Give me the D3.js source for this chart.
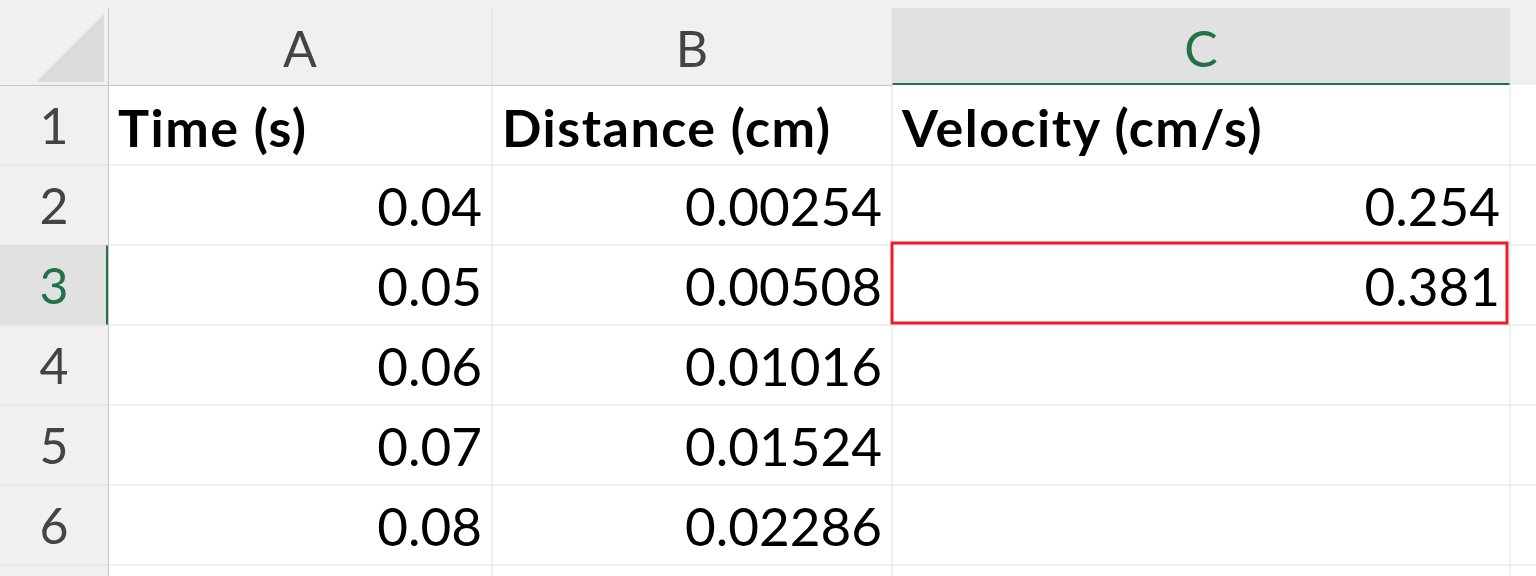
<!DOCTYPE html>
<html>
<head>
<meta charset="utf-8">
<script src="https://cdn.jsdelivr.net/npm/d3@7"></script>
<style>
  body { margin: 0; background: #fff; }
  text { font-family: Lato, "Open Sans", sans-serif; }
</style>
</head>
<body>
<div id="sheet"></div>
<script>
// spreadsheet contents
const columns = ["A", "B", "C"]
const headers = ["Time (s)", "Distance (cm)", "Velocity (cm/s)"]
const time = ["0.04", "0.05", "0.06", "0.07", "0.08"]
const distance = ["0.00254", "0.00508", "0.01016", "0.01524", "0.02286"]
const velocity = ["0.254", "0.381", "", "", ""]
const rowLabels = ["1", "2", "3", "4", "5", "6"]

const width = 1536
const height = 576

const svg = d3.select("#sheet").append("svg")
  .attr("width", width)
  .attr("height", height)

// column edges and row edges
const colEdges = [108, 492, 892, 1510]
const headTop = 8, headBottom = 85, rowH = 80

const x = d3.scaleOrdinal().domain(columns).range(colEdges.slice(0, 3))
const colW = c => colEdges[columns.indexOf(c) + 1] - x(c)
const y = d3.scaleBand().domain(rowLabels).range([headBottom, headBottom + rowH * 6])

// grey header backgrounds
svg.append("rect").attr("x", 0).attr("y", 0).attr("width", width).attr("height", headBottom).attr("fill", "#f0f0f0")
svg.append("rect").attr("x", 0).attr("y", 0).attr("width", 108).attr("height", height).attr("fill", "#f0f0f0")
svg.append("path").attr("d", "M36,82 L104,82 L104,14 Z").attr("fill", "#dcdcdc")

// selected column / row highlight
svg.append("rect").attr("x", x("C")).attr("y", headTop).attr("width", colW("C")).attr("height", headBottom - headTop).attr("fill", "#e1e1e1")
svg.append("line").attr("x1", x("C")).attr("x2", colEdges[3]).attr("y1", headBottom - 1).attr("y2", headBottom - 1).attr("stroke", "#217346").attr("stroke-width", 2)
svg.append("rect").attr("x", 0).attr("y", y("3")).attr("width", 108).attr("height", rowH).attr("fill", "#e1e1e1")
svg.append("line").attr("x1", 107).attr("x2", 107).attr("y1", y("3")).attr("y2", y("3") + rowH).attr("stroke", "#217346").attr("stroke-width", 2)

// grid lines
svg.selectAll("line.v").data(colEdges.slice(1)).join("line")
  .attr("x1", d => d).attr("x2", d => d).attr("y1", headTop).attr("y2", height)
  .attr("stroke", "#e2e2e2")
svg.selectAll("line.h").data(rowLabels).join("line")
  .attr("x1", 0).attr("x2", width).attr("y1", d => y(d) + rowH).attr("y2", d => y(d) + rowH)
  .attr("stroke", "#e2e2e2")
svg.append("line").attr("x1", 108.5).attr("x2", 108.5).attr("y1", headTop).attr("y2", height).attr("stroke", "#c6c6c6")
svg.append("line").attr("x1", 0).attr("x2", x("C")).attr("y1", headBottom + 0.5).attr("y2", headBottom + 0.5).attr("stroke", "#c6c6c6")

// column letters
svg.selectAll("text.col").data(columns).join("text")
  .attr("x", d => x(d) + colW(d) / 2).attr("y", 67)
  .attr("text-anchor", "middle").attr("font-size", 50)
  .attr("fill", d => d === "C" ? "#217346" : "#444")
  .text(d => d)

// row numbers
svg.selectAll("text.row").data(rowLabels).join("text")
  .attr("x", 54).attr("y", d => y(d) + 59)
  .attr("text-anchor", "middle").attr("font-size", 50)
  .attr("fill", d => d === "3" ? "#217346" : "#444")
  .text(d => d)

// header cells
svg.selectAll("text.head").data(headers).join("text")
  .attr("x", (d, i) => x(columns[i]) + 10).attr("y", y("1") + 62)
  .attr("font-size", 52).attr("font-weight", "bold").attr("letter-spacing", 1.5).attr("fill", "#000")
  .text(d => d)

// values
const cols = [time, distance, velocity]
cols.forEach((vals, ci) => {
  const c = columns[ci]
  svg.selectAll("text.v" + c).data(vals).join("text")
    .attr("x", colEdges[ci + 1] - 10)
    .attr("y", (d, i) => y(rowLabels[i + 1]) + 61)
    .attr("text-anchor", "end").attr("font-size", 53).attr("fill", "#000")
    .text(d => d)
})

// active cell
svg.append("rect").attr("x", x("C")).attr("y", y("3") - 2).attr("width", colW("C") - 3).attr("height", rowH)
  .attr("fill", "none").attr("stroke", "#e8202a").attr("stroke-width", 3)
</script>
</body>
</html>
